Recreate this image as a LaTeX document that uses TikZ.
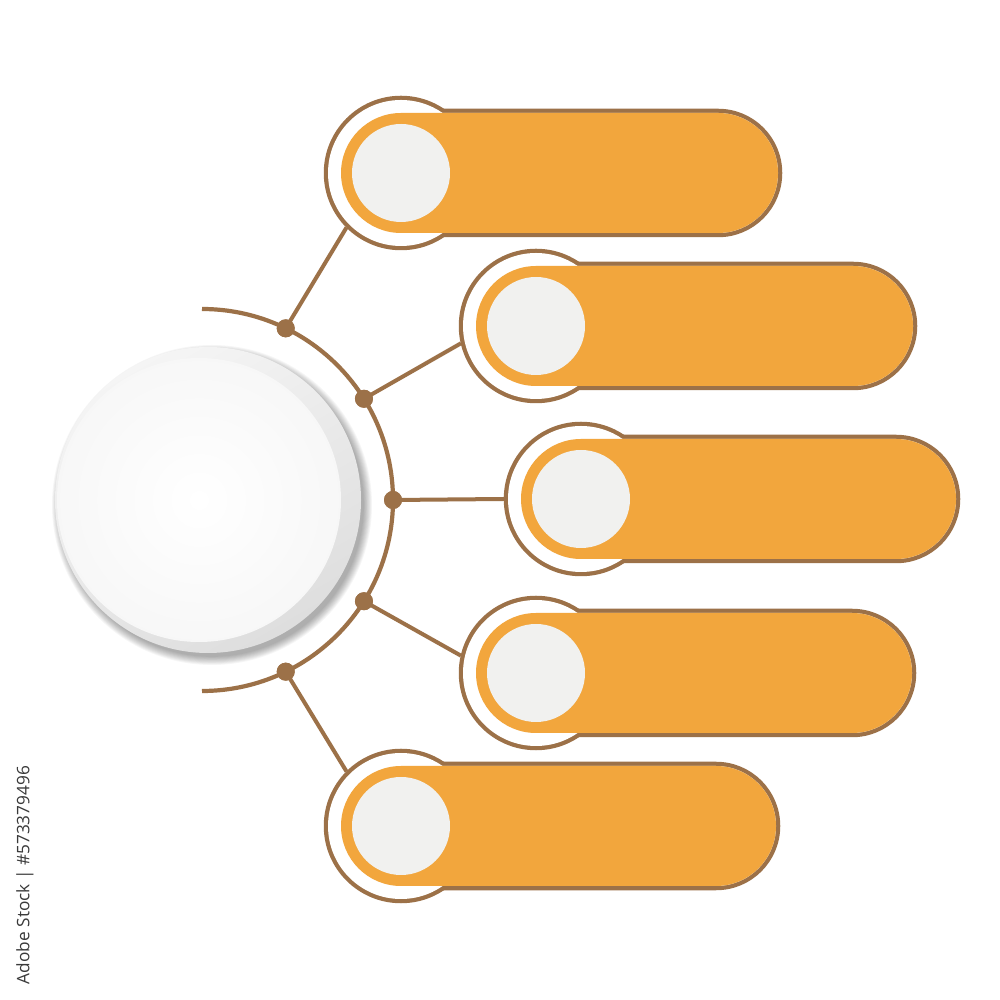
\documentclass[tikz,border=0pt]{standalone}
\usepackage{fontspec}
\newfontfamily\wmfont{Open Sans}
\usetikzlibrary{calc}
\definecolor{brn}{HTML}{9C7148}
\definecolor{org}{HTML}{F2A63D}
\definecolor{knob}{HTML}{F1F1EF}
\definecolor{wmgray}{HTML}{3A3A3A}
\begin{document}
\begin{tikzpicture}[x=0.01cm,y=0.01cm,
  conn/.style={draw=brn, line width=0.04cm},
  hub/.style={draw=brn, line width=0.042cm},
  dotnode/.style={circle, fill=brn, inner sep=0pt, minimum size=0.18cm},
  anchorring/.style={circle, inner sep=0pt, outer sep=0pt, minimum size=1.54cm},
  outline/.style={draw=brn, line width=0.085cm}]
\useasboundingbox (0,0) rectangle (1000,1000);
\fill[white] (0,0) rectangle (1000,1000);

% big circle with shadow
\foreach \i in {1,...,10}
  \fill[black, opacity=0.035] (212,495) circle ({151+\i*0.9});
\shade[left color=gray!8, right color=gray!26, shading angle=30] (208,500) circle (153);
\shade[inner color=white, outer color=gray!6] (199,500) circle (142);
\node[circle, inner sep=0pt, minimum size=3.06cm] (big) at (208,500) {};

% hub arc and dots
\coordinate (hc) at (202,500);
\draw[hub] ($(hc)+(-90:191)$) arc[start angle=-90, end angle=90, radius=191];
\foreach \a/\n in {64/1,32/2,0/3,-32/4,-64/5}
  \node[dotnode] (d\n) at ($(hc)+(\a:191)$) {};

% pills
\foreach \n/\cx/\cy/\R in {1/401/827/782, 2/536/674/917, 3/581/501/960, 4/536/327/916, 5/401/174/780}{
  \pgfmathsetmacro\Rc{\R-64}
  \draw[outline] (\cx,\cy) circle (73);
  \draw[outline] (\cx,\cy-60) -- (\Rc,\cy-60) arc[start angle=-90, end angle=90, radius=60] -- (\cx,\cy+60) -- cycle;
  \fill[white] (\cx,\cy) circle (73);
  \fill[white] (\cx,\cy-60) -- (\Rc,\cy-60) arc[start angle=-90, end angle=90, radius=60] -- (\cx,\cy+60) -- cycle;
  \fill[org] (\cx,\cy-60) -- (\Rc,\cy-60) arc[start angle=-90, end angle=90, radius=60] -- (\cx,\cy+60) arc[start angle=90, end angle=270, radius=60] -- cycle;
  \fill[knob] (\cx,\cy) circle (49);
  \node[anchorring] (ring\n) at (\cx,\cy) {};
}

% connectors
\foreach \n/\ang in {1/225, 2/193, 3/180, 4/167, 5/135}
  \draw[conn] (d\n.center) -- (ring\n.\ang);
\foreach \n in {1,...,5}
  \node[dotnode] at (d\n) {};

% stock id
\node[rotate=90, text=wmgray, font=\wmfont\fontsize{4.9}{5}\selectfont, inner sep=0pt] (wm) at (25,125) {Adobe Stock | \#573379496};
\end{tikzpicture}
\end{document}
